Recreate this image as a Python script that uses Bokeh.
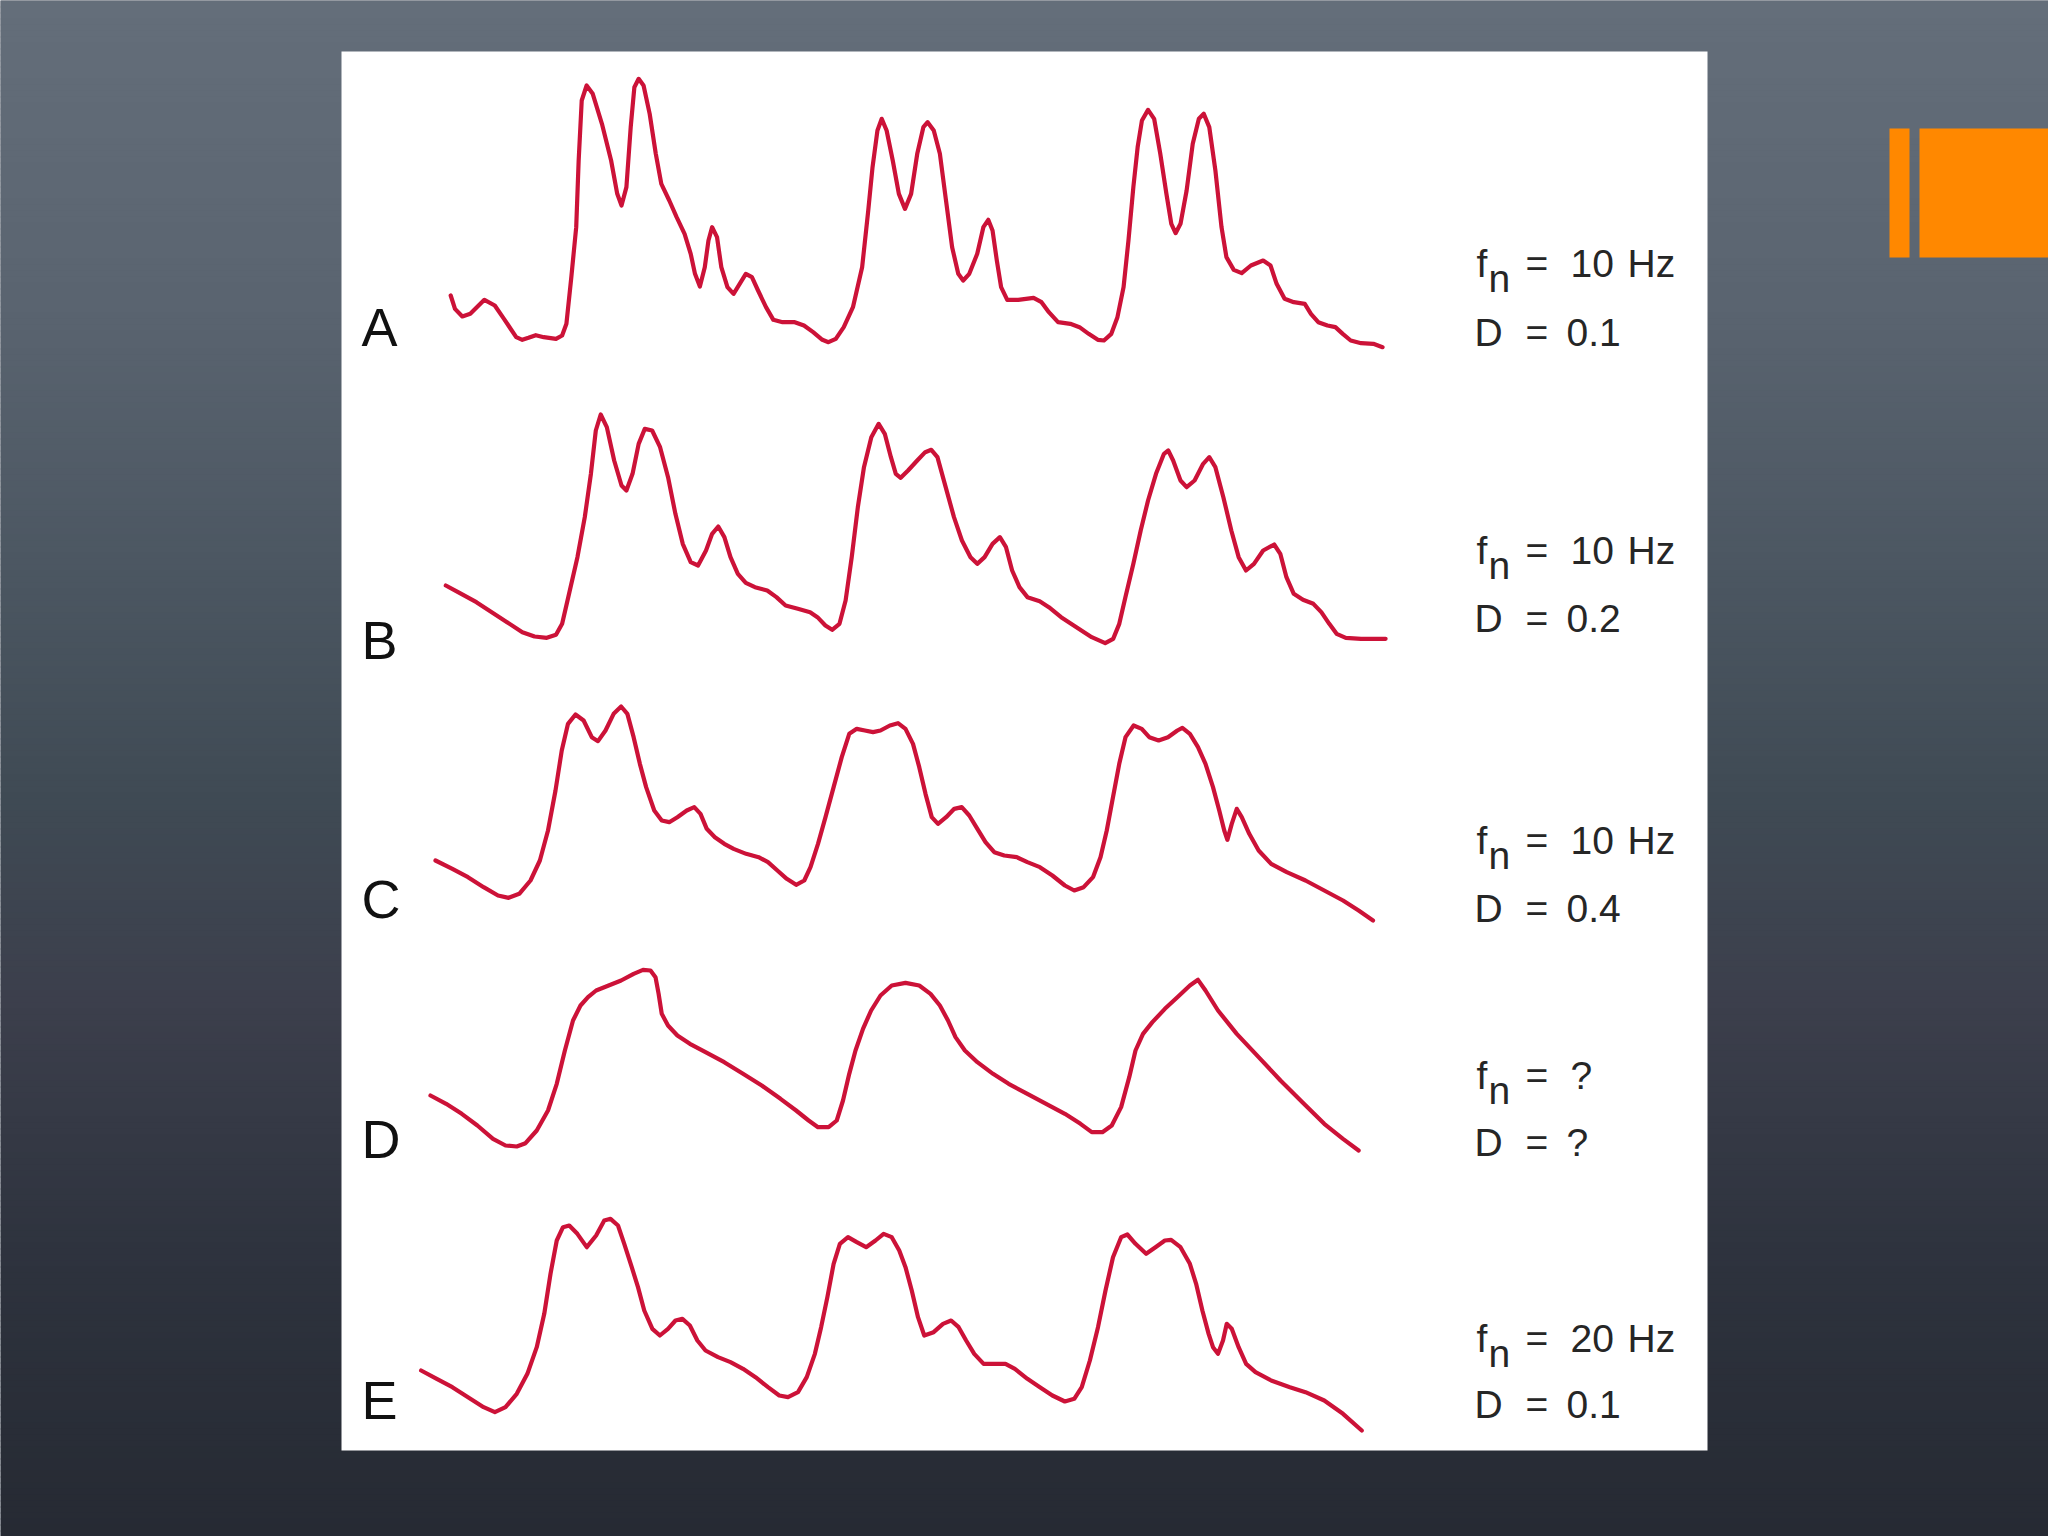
import numpy as np
from bokeh.plotting import figure
from bokeh.models import Range1d
from bokeh.core.properties import value
from bokeh.embed import file_html
from bokeh.resources import INLINE

# ---------------- data ----------------
row_names = ["A", "B", "C", "D", "E"]
fn_values = ["10", "10", "10", "?", "20"]
fn_units = ["Hz", "Hz", "Hz", "", "Hz"]
d_labels = ["0.1", "0.2", "0.4", "?", "0.1"]

# time (ms) and amplitude (arbitrary units) for each trace
time_A = [33, 40, 52, 65, 88, 105, 120, 140, 150, 160, 172, 185, 205, 215, 222, 230, 238, 242, 247, 255,
          265, 280, 295, 305, 312, 320, 327, 333, 340, 348, 358, 368, 377, 390, 402, 415, 425, 432, 440, 448,
          454, 460, 468, 475, 485, 495, 505, 515, 525, 535, 548, 560, 575, 595, 610, 625, 640, 650, 662, 675,
          690, 705, 715, 722, 730, 737, 745, 755, 765, 775, 785, 795, 805, 812, 822, 832, 842, 852, 862, 870,
          880, 893, 903, 911, 918, 925, 932, 942, 960, 985, 998, 1010, 1025, 1045, 1060, 1075, 1090, 1100, 1112, 1122,
          1132, 1140, 1148, 1155, 1162, 1172, 1182, 1192, 1202, 1210, 1217, 1225, 1235, 1245, 1255, 1263, 1272, 1282, 1292, 1300,
          1312, 1325, 1340, 1360, 1372, 1382, 1395, 1410, 1428, 1438, 1450, 1465, 1478, 1490, 1503, 1520, 1540, 1555]
amp_A = [195, 155, 132, 140, 182, 165, 125, 70, 62, 68, 76, 70, 65, 75, 110, 250, 400, 600, 780, 825,
         800, 710, 600, 500, 465, 520, 700, 820, 845, 825, 740, 620, 530, 480, 430, 380, 320, 260, 222, 280,
         360, 400, 370, 280, 220, 200, 230, 260, 250, 210, 160, 122, 115, 115, 105, 85, 62, 55, 65, 100,
         160, 280, 450, 580, 690, 725, 690, 600, 500, 455, 500, 620, 700, 715, 690, 620, 480, 340, 260, 240,
         260, 320, 400, 422, 390, 300, 220, 182, 182, 188, 175, 145, 115, 110, 100, 80, 62, 60, 80, 130,
         220, 360, 520, 640, 720, 752, 725, 620, 500, 410, 382, 410, 510, 650, 725, 740, 700, 570, 400, 310,
         272, 262, 285, 300, 285, 230, 185, 175, 170, 140, 115, 105, 100, 80, 60, 52, 50, 40]

time_B = [25, 45, 75, 100, 125, 150, 170, 190, 205, 215, 225, 240, 252, 262, 270, 278, 288, 300, 312, 320,
          330, 340, 350, 362, 375, 388, 400, 412, 425, 437, 450, 460, 470, 480, 490, 502, 515, 530, 550, 565,
          580, 600, 620, 632, 645, 656, 668, 678, 688, 698, 708, 720, 732, 742, 752, 760, 768, 780, 795, 808,
          818, 828, 840, 855, 868, 882, 893, 905, 918, 930, 940, 950, 962, 975, 995, 1010, 1030, 1055, 1080, 1102,
          1115, 1125, 1135, 1148, 1160, 1172, 1185, 1198, 1205, 1213, 1225, 1235, 1248, 1262, 1272, 1282, 1295, 1308, 1320, 1332,
          1345, 1360, 1378, 1388, 1398, 1410, 1425, 1442, 1455, 1468, 1480, 1495, 1520, 1560]
amp_B = [225, 205, 175, 145, 115, 85, 72, 68, 77, 110, 190, 310, 430, 560, 690, 738, 700, 600, 525, 510,
         560, 650, 695, 690, 640, 550, 440, 350, 295, 285, 330, 380, 402, 370, 310, 260, 233, 220, 210, 190,
         165, 155, 145, 130, 105, 92, 110, 180, 310, 460, 580, 670, 710, 680, 610, 560, 548, 570, 600, 625,
         632, 610, 530, 430, 360, 310, 290, 310, 350, 370, 340, 270, 220, 190, 178, 160, 130, 100, 70, 52,
         65, 110, 190, 290, 390, 480, 560, 620, 630, 600, 540, 520, 540, 590, 610, 580, 490, 390, 310, 270,
         290, 330, 348, 320, 250, 200, 182, 170, 145, 110, 80, 68, 65, 65]

time_C = [48, 75, 100, 125, 148, 165, 182, 200, 215, 228, 240, 250, 260, 272, 285, 298, 308, 320, 333, 345,
          355, 365, 375, 385, 398, 410, 422, 435, 450, 462, 472, 482, 495, 510, 525, 545, 565, 580, 595, 610,
          625, 638, 648, 660, 672, 685, 698, 710, 722, 735, 748, 760, 775, 788, 800, 812, 822, 832, 842, 852,
          865, 878, 890, 902, 915, 928, 942, 958, 978, 995, 1015, 1035, 1055, 1070, 1085, 1100, 1112, 1122, 1132, 1142,
          1152, 1165, 1178, 1190, 1205, 1220, 1235, 1243, 1255, 1268, 1280, 1292, 1302, 1310, 1315, 1322, 1330, 1338, 1350, 1365,
          1385, 1410, 1440, 1470, 1500, 1525, 1548]
amp_C = [240, 215, 190, 160, 135, 128, 140, 180, 240, 330, 450, 570, 650, 678, 660, 610, 598, 630, 680, 702,
         680, 610, 530, 460, 390, 360, 355, 370, 390, 400, 380, 335, 310, 290, 275, 260, 250, 235, 210, 185,
         167, 180, 220, 290, 370, 460, 550, 620, 635, 630, 625, 630, 645, 652, 635, 590, 520, 440, 370, 350,
         370, 395, 400, 375, 335, 295, 265, 255, 250, 235, 220, 195, 165, 150, 160, 190, 250, 330, 430, 530,
         610, 645, 635, 610, 600, 610, 630, 638, 620, 580, 530, 460, 390, 330, 302, 350, 395, 370, 320, 270,
         230, 205, 180, 150, 120, 90, 60]

time_D = [40, 65, 90, 115, 140, 160, 178, 192, 210, 228, 242, 255, 268, 280, 292, 305, 325, 345, 365, 380,
          392, 400, 405, 410, 420, 435, 455, 480, 510, 540, 570, 600, 625, 645, 660, 677, 690, 700, 710, 720,
          732, 745, 760, 778, 800, 822, 840, 855, 868, 880, 895, 915, 940, 965, 995, 1025, 1055, 1080, 1098, 1115,
          1130, 1145, 1158, 1168, 1180, 1195, 1215, 1235, 1255, 1268, 1280, 1300, 1330, 1365, 1400, 1435, 1470, 1500, 1525]
amp_D = [225, 200, 170, 135, 95, 75, 72, 82, 120, 180, 260, 360, 450, 495, 520, 540, 555, 570, 590, 602,
         600, 580, 530, 470, 435, 405, 380, 355, 325, 290, 255, 215, 180, 150, 130, 130, 150, 210, 290, 360,
         425, 480, 525, 555, 563, 555, 530, 495, 450, 400, 360, 325, 290, 260, 230, 200, 170, 140, 115, 115,
         135, 190, 280, 360, 410, 445, 485, 520, 555, 572, 540, 480, 410, 340, 270, 205, 140, 95, 60]

time_E = [25, 50, 75, 100, 125, 143, 160, 178, 195, 210, 222, 232, 242, 252, 262, 275, 290, 305, 318, 328,
          340, 350, 362, 372, 382, 395, 407, 420, 432, 443, 455, 467, 480, 500, 520, 540, 560, 580, 598, 612,
          628, 642, 655, 665, 675, 685, 695, 708, 722, 737, 752, 765, 778, 790, 800, 810, 820, 830, 845, 860,
          873, 885, 897, 910, 925, 945, 960, 975, 995, 1015, 1035, 1055, 1070, 1082, 1095, 1108, 1120, 1132, 1145, 1155,
          1168, 1185, 1200, 1215, 1225, 1240, 1255, 1265, 1275, 1285, 1292, 1300, 1308, 1314, 1322, 1333, 1345, 1360, 1385, 1415,
          1440, 1470, 1500, 1530]
amp_E = [240, 215, 190, 160, 130, 115, 130, 170, 230, 310, 410, 530, 630, 670, 675, 650, 610, 645, 690, 695,
         675, 620, 550, 490, 420, 365, 345, 365, 390, 395, 375, 330, 300, 280, 265, 245, 220, 190, 165, 160,
         175, 220, 290, 370, 460, 560, 620, 640, 625, 610, 630, 650, 640, 600, 550, 480, 400, 345, 355, 380,
         390, 370, 330, 290, 260, 260, 260, 245, 215, 190, 165, 147, 155, 190, 270, 370, 480, 580, 640, 648,
         620, 590, 610, 630, 632, 610, 560, 500, 420, 350, 310, 290, 330, 380, 365, 310, 260, 235, 210, 190,
         175, 150, 110, 60]

times = [time_A, time_B, time_C, time_D, time_E]
amps = [amp_A, amp_B, amp_C, amp_D, amp_E]

# ---------------- layout (slide geometry, page pixels) ----------------
W, H = 2048, 1536
PX0, PX1, PY0, PY1 = 0, 2048, 0, 1536

# per-row placement of each trace's frame: left px, width px, top px, height px
row_frames = [(430, 960, 60, 300), (430, 960, 390, 270), (405, 980, 690, 250),
              (405, 980, 950, 220), (405, 980, 1200, 250)]
T_SPAN = 1568.0       # ms across one frame width
A_PER_PX = 3.0        # amplitude units per pixel

letter_baselines = [326, 639, 898, 1138, 1399]
fn_baselines = [263, 550, 840, 1075, 1338]
d_baselines = [332, 618, 908, 1142, 1404]

TRACE_COLOR = "#cc1238"
FONT = "Liberation Sans"

p = figure(width=W, height=H, x_range=Range1d(PX0, PX1), y_range=Range1d(PY1, PY0),
           output_backend="svg", toolbar_location=None,
           x_axis_type=None, y_axis_type=None, min_border=0)
p.outline_line_color = None
p.background_fill_color = "#4a5560"
p.border_fill_color = "#4a5560"

# background vertical gradient
stop_y = [0, 300, 600, 800, 1000, 1250, 1536]
stop_rgb = [(100, 110, 122), (90, 100, 112), (74, 85, 96), (63, 74, 84),
            (60, 63, 76), (46, 51, 62), (38, 42, 51)]
edges = np.linspace(0, 1536, 257)
mids = (edges[:-1] + edges[1:]) / 2
chans = np.array(stop_rgb, dtype=float)
cols = []
for m in mids:
    r, g, b = (int(round(np.interp(m, stop_y, chans[:, i]))) for i in range(3))
    cols.append("#%02x%02x%02x" % (r, g, b))
p.quad(left=0, right=2048, top=list(edges[:-1]), bottom=list(edges[1:] + 1),
       fill_color=cols, line_color=None)

# white picture panel
p.quad(left=341, right=1707, top=51, bottom=1450, fill_color="white", line_color=None)

# orange decoration
p.quad(left=[1889, 1919], right=[1909, 2060], top=128, bottom=257,
       fill_color="#ff8800", line_color=None)

# traces, each with its own time / amplitude scale
xr, yr = {}, {}
for name, (x0, w, y0, h) in zip(row_names, row_frames):
    k = w / T_SPAN
    xr[name] = Range1d((PX0 - x0) / k, (PX1 - x0) / k)
    yr[name] = Range1d(A_PER_PX * (y0 + h - PY1), A_PER_PX * (y0 + h - PY0))
p.extra_x_ranges = xr
p.extra_y_ranges = yr

for name, t, a in zip(row_names, times, amps):
    p.line(t, a, x_range_name=name, y_range_name=name, line_color=TRACE_COLOR,
           line_width=4.2, line_join="round", line_cap="round")

# row letters
p.text(x=[361] * 5, y=letter_baselines, text=row_names, text_font=value(FONT),
       text_font_size="54px", text_color="#111111", text_baseline="alphabetic")

# parameter labels
TXT = "#262626"
fs = "39px"
def lab(xs, ys, texts):
    p.text(x=xs, y=ys, text=texts, text_font=value(FONT), text_font_size=fs,
           text_color=TXT, text_baseline="alphabetic")

lab([1476] * 5, fn_baselines, ["f"] * 5)
lab([1488] * 5, [b + 15 for b in fn_baselines], ["n"] * 5)
lab([1525] * 5, fn_baselines, ["="] * 5)
lab([1570] * 5, fn_baselines, fn_values)
lab([1627] * 5, fn_baselines, fn_units)
lab([1474] * 5, d_baselines, ["D"] * 5)
lab([1525] * 5, d_baselines, ["="] * 5)
lab([1566] * 5, d_baselines, d_labels)

open("out.html", "w").write(file_html(p, INLINE))
